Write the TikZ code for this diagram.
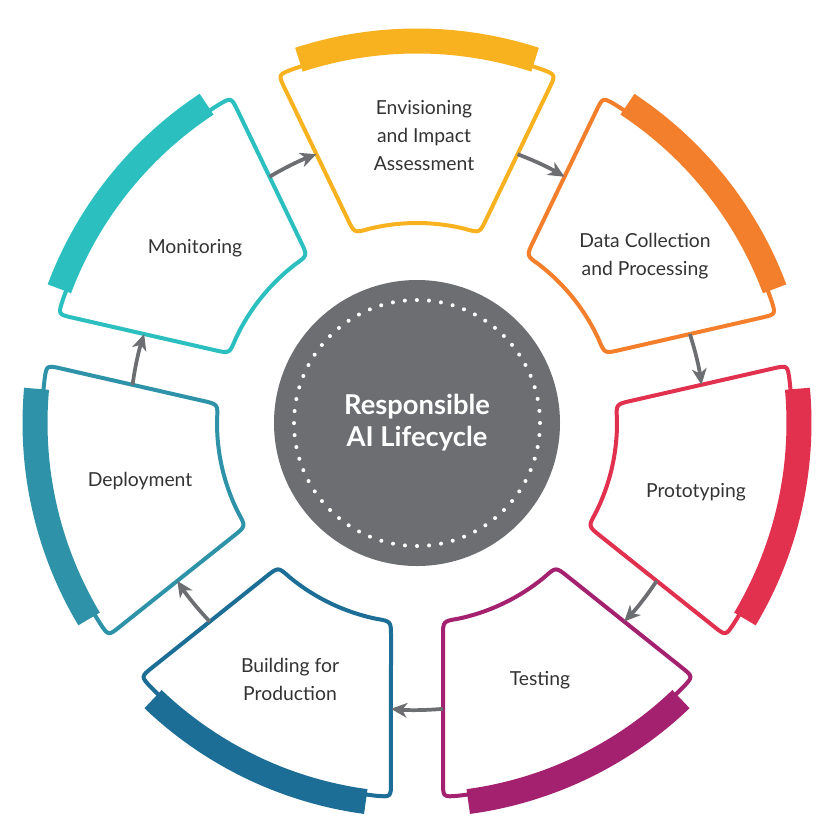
\documentclass[tikz,border=0pt]{standalone}
\usepackage{fontspec}
\setmainfont{Lato}
\usetikzlibrary{calc}
\usetikzlibrary{arrows.meta}

\definecolor{cEnv}{RGB}{249,178,31}
\definecolor{cData}{RGB}{243,127,44}
\definecolor{cProto}{RGB}{226,48,79}
\definecolor{cTest}{RGB}{164,33,111}
\definecolor{cBuild}{RGB}{28,110,150}
\definecolor{cDeploy}{RGB}{46,147,168}
\definecolor{cMonitor}{RGB}{43,191,191}
\definecolor{cHub}{RGB}{109,110,113}
\definecolor{cText}{RGB}{51,51,51}

\tikzset{
  stage/.style={line width=3pt, fill=white, line join=round},
  band/.style={line width=18.75pt},
  flow/.style={draw=cHub, line width=2.8pt, -{Stealth[length=12pt,width=11pt,inset=3.5pt]}},
  stagetext/.style={text=cText, align=center, font=\fontsize{14.5}{21}\selectfont},
  hubtext/.style={circle, fill=cHub, minimum size=214.5pt, inner sep=0pt, text=white, align=center, font=\fontsize{20.5}{24}\selectfont\bfseries},
}

\begin{document}
\begin{tikzpicture}[x=0.75pt,y=0.75pt,yscale=-1,xscale=1]
\useasboundingbox (0,0) rectangle (832,829);
\fill[white] (0,0) rectangle (832,829);

\begin{scope}[shift={(417,423)}]
%Shape: stage outlines with outer bands
\foreach \a/\c/\n in {-90/cEnv/env, -38.57/cData/data, 12.86/cProto/proto, 64.29/cTest/test, 115.71/cBuild/build, 167.14/cDeploy/deploy, 218.57/cMonitor/monitor}{
  \coordinate (\n-o1) at (\a-21.73:375);
  \coordinate (\n-o2) at (\a+21.73:375);
  \coordinate (\n-i1) at (\a-18.24:200);
  \coordinate (\n-i2) at (\a+18.24:200);
  \draw[stage, draw=\c] (\a-19.43:375) arc[start angle=\a-19.43, end angle=\a+19.43, radius=375]
    .. controls (\n-o2) .. ($(\n-o2)!11.25pt!(\n-i2)$) -- ($(\n-i2)!11.25pt!(\n-o2)$)
    .. controls (\n-i2) .. (\a+13.94:200) arc[start angle=\a+13.94, end angle=\a-13.94, radius=200]
    .. controls (\n-i1) .. ($(\n-i1)!11.25pt!(\n-o1)$) -- ($(\n-o1)!11.25pt!(\n-i1)$)
    .. controls (\n-o1) .. (\a-19.43:375) -- cycle;
  \draw[band, draw=\c] (\a-18:382) arc[start angle=\a-18, end angle=\a+18, radius=382];
}

%Curve Lines: arrows in the gaps
\foreach \g/\n in {-64.29/envdata, -12.86/dataproto, 38.57/prototest, 90/testbuild, 141.43/builddeploy, 192.86/deploymonitor, 244.29/monitorenv}{
  \coordinate (\n) at (\g-5.2:287);
  \draw[flow] (\n) arc[start angle=\g-5.2, end angle=\g+5.2, radius=287];
}

% Hub
\node[hubtext] (hub) at (0,0) {Responsible\\AI Lifecycle};
\draw[white, line width=3pt, line cap=round, dash pattern=on 0pt off 9.056pt] (hub.center) circle[radius=123];
\end{scope}

% Text Node
\draw (424,136) node [stagetext] (envtext) {Envisioning\\and Impact\\Assessment};
% Text Node
\draw (645,256) node [stagetext] (datatext) {Data Collection\\and Processing};
% Text Node
\draw (696,492) node [stagetext] (prototext) {Prototyping};
% Text Node
\draw (540,680) node [stagetext] (testtext) {Testing};
% Text Node
\draw (290,679) node [stagetext] (buildtext) {Building for\\Production};
% Text Node
\draw (140,481) node [stagetext] (deploytext) {Deployment};
% Text Node
\draw (195,248) node [stagetext] (monitortext) {Monitoring};

\end{tikzpicture}
\end{document}
